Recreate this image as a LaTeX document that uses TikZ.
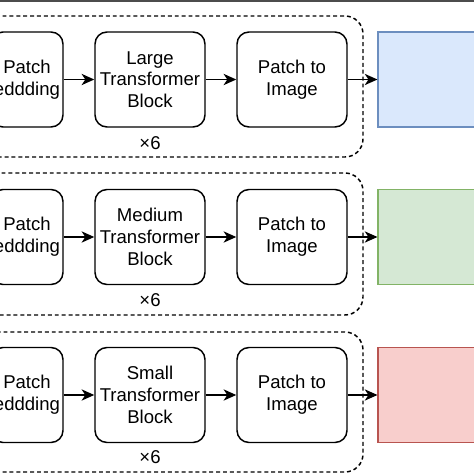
\documentclass[tikz,border=0pt]{standalone}
\usepackage{fontspec}
\setmainfont{Liberation Sans}
\usetikzlibrary{arrows.meta}
\definecolor{blueFill}{HTML}{DAE8FC}
\definecolor{blueLine}{HTML}{6C8EBF}
\definecolor{greenFill}{HTML}{D5E8D4}
\definecolor{greenLine}{HTML}{82B366}
\definecolor{redFill}{HTML}{F8CECC}
\definecolor{redLine}{HTML}{B85450}

\begin{document}
\begin{tikzpicture}[
		line width=1.05pt,
		every node/.style={font=\fontsize{13.2}{15.4}\selectfont, align=center},
		block/.style={rectangle, draw, rounded corners=0.3cm, minimum height=2.375cm, minimum width=2.75cm, inner sep=0pt},
		outbox/.style={rectangle, draw, line width=0.8pt, minimum height=2.375cm, minimum width=3.05cm},
		group/.style={dash pattern=on 2.8pt off 2.1pt, rounded corners=0.45cm},
		arr/.style={-{Stealth[length=9pt, width=8pt, inset=2.6pt]}}
	]
  \clip (0cm, 0cm) rectangle (11.85cm, 11.85cm);
  \fill[black!70] (0cm, 11.8cm) rectangle (11.85cm, 11.85cm);
  % large
  \draw[group] (-0.5cm, 7.925cm) rectangle (9.075cm, 11.45cm);
  \node (pe_l) [block, minimum width=1.8cm] at (0.675cm, 9.8625cm) {Patch\\eddding};
  \node (tb_l) [block] at (3.75cm, 9.8625cm) {Large\\Transformer\\Block};
  \node (pi_l) [block] at (7.3cm, 9.8625cm) {Patch to\\Image};
  \node (out_l) [outbox, fill=blueFill, draw=blueLine] at (10.975cm, 9.8625cm) {};
  \node (rep_l) at (3.75cm, 8.275cm) {×6};
  \draw (pe_l) edge [arr] (tb_l);
  \draw (tb_l) edge [arr] (pi_l);
  \draw (pi_l) edge [arr] (out_l);
  % medium
  \draw[group] (-0.5cm, 3.975cm) rectangle (9.075cm, 7.525cm);
  \node (pe_m) [block, minimum width=1.8cm] at (0.675cm, 5.925cm) {Patch\\eddding};
  \node (tb_m) [block] at (3.75cm, 5.925cm) {Medium\\Transformer\\Block};
  \node (pi_m) [block] at (7.3cm, 5.925cm) {Patch to\\Image};
  \node (out_m) [outbox, fill=greenFill, draw=greenLine] at (10.975cm, 5.925cm) {};
  \node (rep_m) at (3.75cm, 4.35cm) {×6};
  \draw (pe_m) edge [arr] (tb_m);
  \draw (tb_m) edge [arr] (pi_m);
  \draw (pi_m) edge [arr] (out_m);
  % small
  \draw[group] (-0.5cm, 0.05cm) rectangle (9.075cm, 3.55cm);
  \node (pe_s) [block, minimum width=1.8cm] at (0.675cm, 1.975cm) {Patch\\eddding};
  \node (tb_s) [block] at (3.75cm, 1.975cm) {Small\\Transformer\\Block};
  \node (pi_s) [block] at (7.3cm, 1.975cm) {Patch to\\Image};
  \node (out_s) [outbox, fill=redFill, draw=redLine] at (10.975cm, 1.975cm) {};
  \node (rep_s) at (3.75cm, 0.425cm) {×6};
  \draw (pe_s) edge [arr] (tb_s);
  \draw (tb_s) edge [arr] (pi_s);
  \draw (pi_s) edge [arr] (out_s);
\end{tikzpicture}
\end{document}
